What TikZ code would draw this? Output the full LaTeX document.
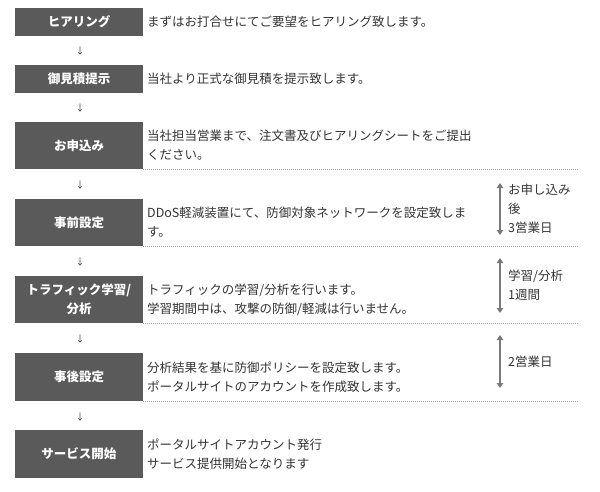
\documentclass[tikz,border=0pt]{standalone}
\usepackage{fontspec}
\setmainfont{Noto Sans CJK JP}
\usetikzlibrary{arrows.meta}
\definecolor{boxfill}{HTML}{5A5A5A}
\definecolor{txt}{HTML}{333333}
\definecolor{arr}{HTML}{7A7A7A}
\definecolor{sepc}{HTML}{A0A0A0}
\begin{document}
\begin{tikzpicture}[x=1pt,y=-1pt,
 stepbox/.style={fill=boxfill, text=white, font=\fontsize{12.5}{19}\selectfont\bfseries, minimum width=128pt, align=center, inner sep=0pt},
 desc/.style={anchor=west, align=left, text=txt, font=\fontsize{12.5}{19}\selectfont, inner sep=0pt},
 downarrow/.style={text=txt, font=\fontsize{9}{9}\selectfont, inner sep=0pt},
 sepline/.style={draw=sepc, line width=1pt, dash pattern=on 1pt off 1pt},
 dur/.style={draw=arr, line width=1.8pt, {Triangle[length=5pt,width=6.5pt]}-{Triangle[length=5pt,width=6.5pt]}},
 note/.style={anchor=west, align=left, text=txt, font=\fontsize{12.5}{19}\selectfont, inner sep=0pt}]
\useasboundingbox (0,0) rectangle (600,491);

% boxes
\node[stepbox, minimum height=28pt] (b1) at (79,21.5) {ヒアリング};
\node[stepbox, minimum height=28pt] (b2) at (79,79) {御見積提示};
\node[stepbox, minimum height=47pt] (b3) at (79,145.5) {お申込み};
\node[stepbox, minimum height=47pt] (b4) at (79,222.5) {事前設定};
\node[stepbox, minimum height=47pt] (b5) at (79,299.5) {トラフィック学習/\\分析};
\node[stepbox, minimum height=48pt] (b6) at (79,377) {事後設定};
\node[stepbox, minimum height=48pt] (b7) at (79,454) {サービス開始};

% down arrows
\node[downarrow] (d1) at (80,51) {↓};
\node[downarrow] (d2) at (80,108) {↓};
\node[downarrow] (d3) at (80,185) {↓};
\node[downarrow] (d4) at (80,262) {↓};
\node[downarrow] (d5) at (80,339) {↓};
\node[downarrow] (d6) at (80,417) {↓};

% descriptions
\node[desc] (t1) at (147,21.5) {まずはお打合せにてご要望をヒアリング致します。};
\node[desc] (t2) at (147,79) {当社より正式な御見積を提示致します。};
\node[desc] (t3) at (147,145.5) {当社担当営業まで、注文書及びヒアリングシートをご提出\\ください。};
\node[desc] (t4) at (147,222.5) {DDoS軽減装置にて、防御対象ネットワークを設定致しま\\す。};
\node[desc] (t5) at (147,299.5) {トラフィックの学習/分析を行います。\\学習期間中は、攻撃の防御/軽減は行いません。};
\node[desc] (t6) at (147,377) {分析結果を基に防御ポリシーを設定致します。\\ポータルサイトのアカウントを作成致します。};
\node[desc] (t7) at (147,454) {ポータルサイトアカウント発行\\サービス提供開始となります};

% dotted separators
\draw[sepline] (b3.south east) -- ++(435,0);
\draw[sepline] (b4.south east) -- ++(435,0);
\draw[sepline] (b5.south east) -- ++(435,0);
\draw[sepline] (b6.south east) -- ++(435,0);

% duration arrows
\coordinate (a1t) at (500,183);
\coordinate (a1b) at (500,235);
\coordinate (a2t) at (500,258);
\coordinate (a2b) at (500,313);
\coordinate (a3t) at (500,335);
\coordinate (a3b) at (500,388);
\draw[dur] (a1t) -- (a1b);
\draw[dur] (a2t) -- (a2b);
\draw[dur] (a3t) -- (a3b);
\node[note] (n1) at (508,209) {お申し込み\\後\\3営業日};
\node[note] (n2) at (508,285.5) {学習/分析\\1週間};
\node[note] (n3) at (508,362) {2営業日};
\end{tikzpicture}
\end{document}
